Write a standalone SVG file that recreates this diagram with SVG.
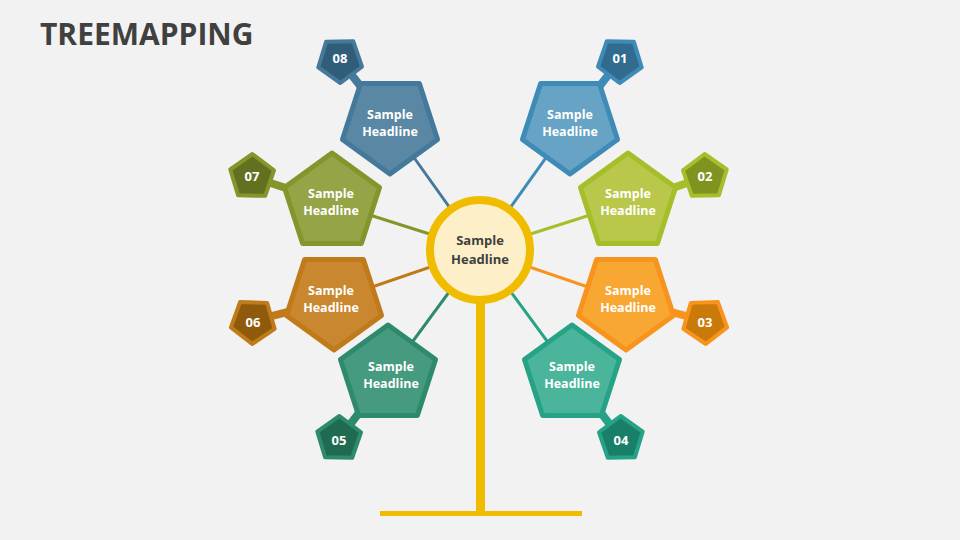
<svg xmlns="http://www.w3.org/2000/svg" width="960" height="540" viewBox="0 0 960 540">
<style>
.t{font-family:"Open Sans","Liberation Sans",sans-serif;font-weight:bold;font-size:12.5px;fill:#fff;text-anchor:middle}
.n{font-family:"Open Sans","Liberation Sans",sans-serif;font-weight:bold;font-size:13px;fill:#fff;text-anchor:middle}
.p{stroke-width:5;stroke-linejoin:round}
.b{stroke-width:4;stroke-linejoin:round}
.c{stroke-width:3}
.k{stroke-width:8}
</style>
<defs>
<polygon id="pg" points="0,-50 47.55,-15.45 29.39,40.45 -29.39,40.45 -47.55,-15.45"/>
<polygon id="bg" points="0,-23 21.87,-7.11 13.52,18.61 -13.52,18.61 -21.87,-7.11"/>
</defs>
<rect width="960" height="540" fill="#f2f2f2"/>
<text x="40" y="45" font-family="'Open Sans','Liberation Sans',sans-serif" font-weight="bold" font-size="30" fill="#404040">TREEMAPPING</text>
<g id="connectors">
<line class="c" x1="480" y1="250" x2="570" y2="124" stroke="#3f8bb8"/>
<line class="c" x1="480" y1="250" x2="628" y2="203" stroke="#a5be2a"/>
<line class="c" x1="480" y1="250" x2="626" y2="300" stroke="#f7941d"/>
<line class="c" x1="480" y1="250" x2="572" y2="375" stroke="#26a386"/>
<line class="c" x1="480" y1="250" x2="388" y2="375" stroke="#2e8a6c"/>
<line class="c" x1="480" y1="250" x2="334" y2="300" stroke="#c07a1a"/>
<line class="c" x1="480" y1="250" x2="332" y2="203" stroke="#83962c"/>
<line class="c" x1="480" y1="250" x2="390" y2="124" stroke="#44799b"/>
<rect x="476" y="300" width="9" height="214" fill="#f0bc00"/>
<rect x="380" y="511" width="202" height="5" fill="#f0bc00"/>
</g>
<g id="center"><circle cx="480" cy="250" r="50" fill="#fdf0c8" stroke="#f0bc00" stroke-width="8"/>
<text class="t" x="480" y="245" style="fill:#404040;font-size:13px">Sample</text><text class="t" x="480" y="264" style="fill:#404040;font-size:13px">Headline</text></g>

<g id="n01"><line class="k" x1="570" y1="124" x2="620" y2="60" stroke="#3f8bb8"/><use href="#pg" class="p" transform="translate(570,124) rotate(180)" fill="#66a3c4" stroke="#3f8bb8"/><use href="#bg" class="b" transform="translate(620,60) rotate(37)" fill="#316c8f" stroke="#3f8bb8"/><text class="t" x="570" y="119">Sample</text><text class="t" x="570" y="136">Headline</text><text class="n" x="620" y="63">01</text></g>
<g id="n02"><line class="k" x1="628" y1="203" x2="705" y2="177" stroke="#a5be2a"/><use href="#pg" class="p" transform="translate(628,203)" fill="#b9c84a" stroke="#a5be2a"/><use href="#bg" class="b" transform="translate(705,177) rotate(71)" fill="#7f9420" stroke="#a5be2a"/><text class="t" x="628" y="198">Sample</text><text class="t" x="628" y="215">Headline</text><text class="n" x="705" y="181">02</text></g>
<g id="n03"><line class="k" x1="626" y1="300" x2="705" y2="321" stroke="#f7941d"/><use href="#pg" class="p" transform="translate(626,300) rotate(180)" fill="#f9a733" stroke="#f7941d"/><use href="#bg" class="b" transform="translate(705,321) rotate(106)" fill="#c97a08" stroke="#f7941d"/><text class="t" x="628" y="295">Sample</text><text class="t" x="628" y="312">Headline</text><text class="n" x="705" y="327">03</text></g>
<g id="n04"><line class="k" x1="572" y1="375" x2="621" y2="439" stroke="#26a386"/><use href="#pg" class="p" transform="translate(572,375)" fill="#4bb59c" stroke="#26a386"/><use href="#bg" class="b" transform="translate(621,439) rotate(143)" fill="#1a7f68" stroke="#26a386"/><text class="t" x="572" y="371">Sample</text><text class="t" x="572" y="388">Headline</text><text class="n" x="621" y="445">04</text></g>
<g id="n05"><line class="k" x1="388" y1="375" x2="339" y2="439" stroke="#2e8a6c"/><use href="#pg" class="p" transform="translate(388,375)" fill="#469a80" stroke="#2e8a6c"/><use href="#bg" class="b" transform="translate(339,439) rotate(-143)" fill="#1e6b52" stroke="#2e8a6c"/><text class="t" x="391" y="371">Sample</text><text class="t" x="391" y="388">Headline</text><text class="n" x="339" y="445">05</text></g>
<g id="n06"><line class="k" x1="334" y1="300" x2="253" y2="321" stroke="#c07a1a"/><use href="#pg" class="p" transform="translate(334,300) rotate(180)" fill="#c9872f" stroke="#c07a1a"/><use href="#bg" class="b" transform="translate(253,321) rotate(-106)" fill="#8f5a0c" stroke="#c07a1a"/><text class="t" x="331" y="295">Sample</text><text class="t" x="331" y="312">Headline</text><text class="n" x="253" y="327">06</text></g>
<g id="n07"><line class="k" x1="332" y1="203" x2="252" y2="177" stroke="#83962c"/><use href="#pg" class="p" transform="translate(332,203)" fill="#95a447" stroke="#83962c"/><use href="#bg" class="b" transform="translate(252,177) rotate(-71)" fill="#627120" stroke="#83962c"/><text class="t" x="331" y="198">Sample</text><text class="t" x="331" y="215">Headline</text><text class="n" x="252" y="181">07</text></g>
<g id="n08"><line class="k" x1="390" y1="124" x2="340" y2="60" stroke="#44799b"/><use href="#pg" class="p" transform="translate(390,124) rotate(180)" fill="#5a87a3" stroke="#44799b"/><use href="#bg" class="b" transform="translate(340,60) rotate(-37)" fill="#2f5d7a" stroke="#44799b"/><text class="t" x="390" y="119">Sample</text><text class="t" x="390" y="136">Headline</text><text class="n" x="340" y="63">08</text></g>
</svg>
